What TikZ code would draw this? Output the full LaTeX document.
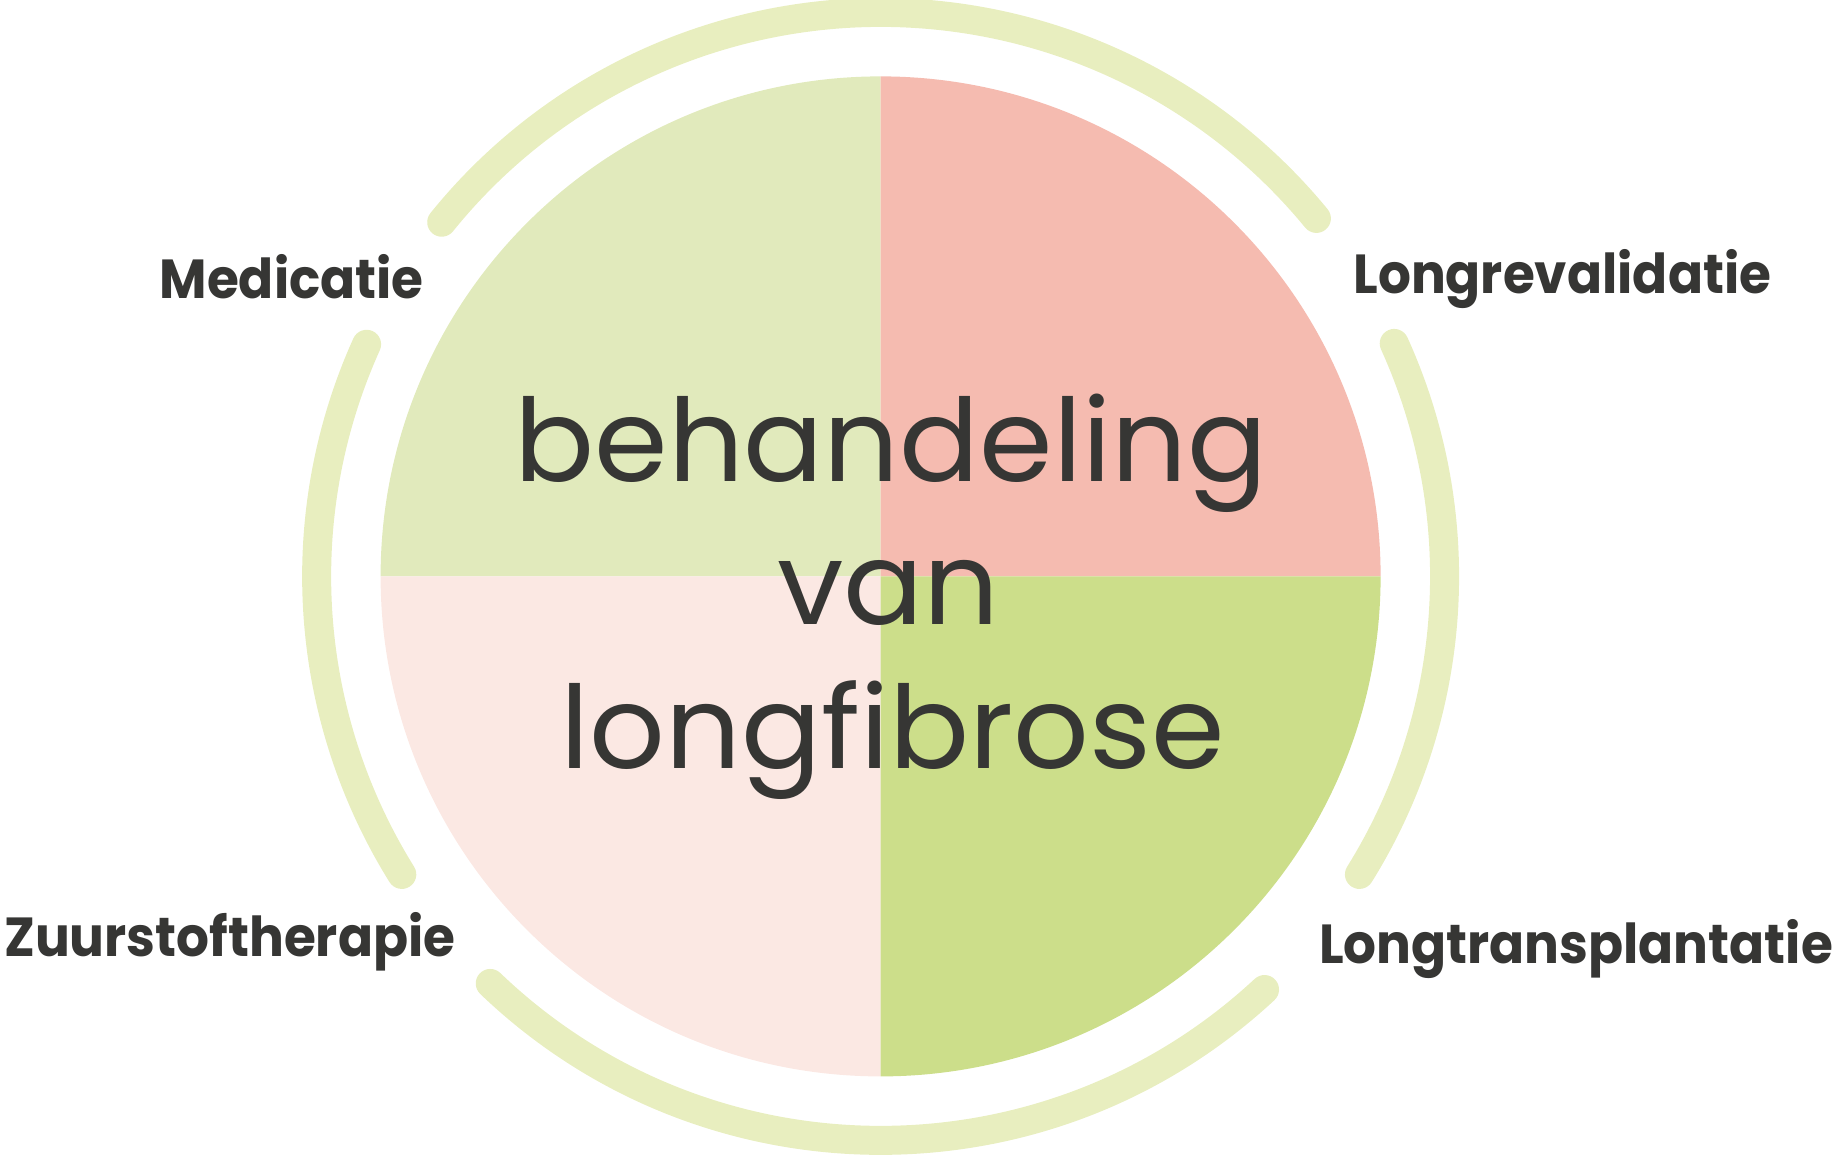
\documentclass[tikz,border=0pt]{standalone}
\usepackage{fontspec}
\setmainfont{Poppins}[Ligatures={NoCommon}]
\newfontfamily\titlefont{Poppins}[Ligatures={NoCommon}, FakeStretch=1.03]
\newfontfamily\treatfont{Poppins}[Ligatures={NoCommon}, FakeStretch=0.94]
\usepackage{tikz}
\definecolor{qgreen}  {RGB}{225,234,188}
\definecolor{qsalmon} {RGB}{245,187,176}
\definecolor{qpink}   {RGB}{251,232,227}
\definecolor{qlime}   {RGB}{204,222,138}
\definecolor{ringgreen}{RGB}{232,238,191}
\definecolor{tgrey}   {RGB}{54,54,52}
\tikzset{
    ring/.style={draw=ringgreen, line width=29pt, line cap=round},
    treat/.style={text=tgrey, font=\treatfont\fontsize{55}{66}\selectfont\bfseries, anchor=base, inner sep=0pt},
    title/.style={text=tgrey, font=\titlefont\fontsize{115}{144}\selectfont, anchor=base, inner sep=0pt}
  }
\begin{document}
\begin{tikzpicture}[x=1pt, y=1pt]
 \useasboundingbox (0,0) rectangle (1835,1154);
 \coordinate (c) at (880.6,577.6);
 %quarters
     \fill[qgreen]  (c) -- ++(90:500)  arc[start angle=90,  end angle=180, radius=500] -- cycle;
     \fill[qsalmon] (c) -- ++(0:500)   arc[start angle=0,   end angle=90,  radius=500] -- cycle;
     \fill[qpink]   (c) -- ++(180:500) arc[start angle=180, end angle=270, radius=500] -- cycle;
     \fill[qlime]   (c) -- ++(270:500) arc[start angle=270, end angle=360, radius=500] -- cycle;
 %outer ring, top
     \draw[ring] ([shift={(39.4:564)}]c) arc[start angle=39.4, end angle=141.1, radius=564];
 %right
     \draw[ring] ([shift={(-31.9:564)}]c) arc[start angle=-31.9, end angle=24.4, radius=564];
 %bottom
     \draw[ring] ([shift={(226.2:564)}]c) arc[start angle=226.2, end angle=312.9, radius=564];
 %left
     \draw[ring] ([shift={(155.7:564)}]c) arc[start angle=155.7, end angle=211.9, radius=564];
 %title
     \node[title] (beh) at (891,672.3) {behandeling};
     \node[title] (van) at (888.4,529) {van};
     \node[title] (lfib) at (892.8,385.7) {longfibrose};
 %treatments
     \node[treat] (med) at (291.7,855.7) {Medicatie};
     \node[treat] (reval) at (1562.3,860) {Longrevalidatie};
     \node[treat] (zuur) at (229.8,198) {Zuurstoftherapie};
     \node[treat] (trans) at (1576,190.7) {Longtransplantatie};
 \end{tikzpicture}
\end{document}
